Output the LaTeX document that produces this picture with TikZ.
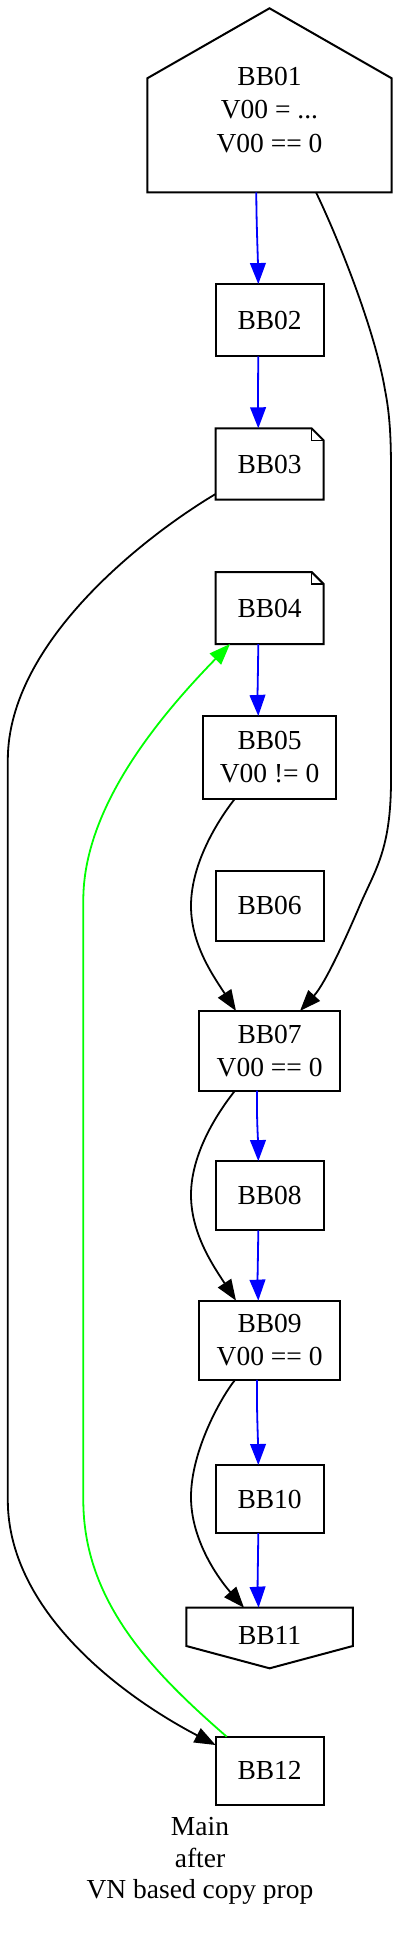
\documentclass[tikz,border=0pt]{standalone}
\usepackage{fontspec}
\setmainfont{Liberation Serif}
\usetikzlibrary{arrows.meta}
\begin{document}
\begin{tikzpicture}[x=1pt,y=-1pt,
  every node/.style={font=\fontsize{27.5pt}{33.3pt}\selectfont, inner sep=0pt, outer sep=0pt, align=center},
  bbox/.style={draw, line width=2pt, minimum width=108pt},
  plainbox/.style={minimum width=108pt},
  shapeline/.style={line width=2pt, line join=miter},
  tedge/.style={line width=1.8pt, -{Triangle[length=21pt,width=15.7pt]}},
  bedge/.style={tedge, blue},
  gedge/.style={tedge, green}
]
\useasboundingbox (0,0) rectangle (400,1954);

% nodes
\node[plainbox, minimum width=244.4pt, minimum height=164.6pt] (b01) at (269.5,110) {BB01\\V00 = ...\\V00 == 0};
\draw[shapeline] (b01.south west) -- ([yshift=114pt]b01.south west) -- ([yshift=184pt]b01.south) -- ([yshift=114pt]b01.south east) -- (b01.south east) -- cycle;

\node[bbox, minimum height=72.3pt] (b02) at (269.6,320.2) {BB02};

\node[plainbox, minimum height=71.4pt] (b03) at (269.6,464) {BB03};
\draw[shapeline] (b03.south west) -- (b03.north west) -- ([xshift=-12pt]b03.north east) -- ([yshift=-12pt]b03.north east) -- (b03.south east) -- cycle;
\draw[line width=1.5pt] ([xshift=-12pt]b03.north east) -- ([xshift=-12pt,yshift=-12pt]b03.north east) -- ([yshift=-12pt]b03.north east);

\node[plainbox, minimum height=72pt] (b04) at (269.6,608) {BB04};
\draw[shapeline] (b04.south west) -- (b04.north west) -- ([xshift=-12pt]b04.north east) -- ([yshift=-12pt]b04.north east) -- (b04.south east) -- cycle;
\draw[line width=1.5pt] ([xshift=-12pt]b04.north east) -- ([xshift=-12pt,yshift=-12pt]b04.north east) -- ([yshift=-12pt]b04.north east);

\node[bbox, minimum width=133.3pt, minimum height=82.7pt] (b05) at (269.6,757.3) {BB05\\V00 != 0};
\node[bbox, minimum height=70.3pt] (b06) at (269.6,905.8) {BB06};
\node[bbox, minimum width=140.4pt, minimum height=79.7pt] (b07) at (269.6,1050.8) {BB07\\V00 == 0};
\node[bbox, minimum height=69.3pt] (b08) at (269.6,1195.7) {BB08};
\node[bbox, minimum width=140.4pt, minimum height=79.3pt] (b09) at (269.6,1340.3) {BB09\\V00 == 0};
\node[bbox, minimum height=68pt] (b10) at (269.6,1499) {BB10};

\node[plainbox, minimum width=166.4pt, minimum height=54.6pt] (b11) at (269.6,1635) {BB11};
\draw[shapeline] (b11.north west) -- ([yshift=-38.3pt]b11.north west) -- ([yshift=-60.6pt]b11.north) -- ([yshift=-38.3pt]b11.north east) -- (b11.north east) -- cycle;

\node[bbox, minimum height=68.3pt] (b12) at (269.6,1770.8) {BB12};

\node[font=\fontsize{27.5pt}{31.2pt}\selectfont] (cap) at (200,1861) {Main\\after\\VN based copy prop};

% edges
\draw[bedge] ([xshift=-13.2pt]b01.south) .. controls (256.3,220) and (257.8,255) .. ([xshift=-11.3pt]b02.north);
\draw[tedge] ([xshift=46.5pt]b01.south) .. controls (338,238) and (375,330) .. (385,390) .. controls (390,415) and (391,440) .. (391,470) -- (391,780) .. controls (391,850) and (375,870) .. (360,905) .. controls (345,940) and (325,983.7) .. ([xshift=30.4pt]b07.north);
\draw[bedge] ([xshift=-11.3pt]b02.south) .. controls (258,385) and (258,400) .. ([xshift=-11.3pt]b03.north);
\draw[tedge] ([yshift=-30pt]b03.west) .. controls (150,533) and (7.8,640) .. (7.8,760) -- (7.8,1500) .. controls (7.8,1610) and (120,1695) .. ([yshift=25.8pt]b12.west);
\draw[bedge] ([xshift=-11.3pt]b04.south) .. controls (258,670) and (257.5,695) .. ([xshift=-11.3pt]b05.north);
\draw[tedge] ([xshift=-34.6pt]b05.south) .. controls (222,815) and (191,860) .. (191,906) .. controls (191,945) and (214,977) .. ([xshift=-33.6pt]b07.north);
\draw[bedge] ([xshift=-12.6pt]b07.south) .. controls (256.5,1115) and (258,1140) .. ([xshift=-11.3pt]b08.north);
\draw[tedge] ([xshift=-34.6pt]b07.south) .. controls (222,1107) and (191,1150) .. (191,1195) .. controls (191,1234) and (214,1267) .. ([xshift=-33.6pt]b09.north);
\draw[bedge] ([xshift=-11.3pt]b08.south) .. controls (258,1255) and (257.5,1280) .. ([xshift=-11.3pt]b09.north);
\draw[bedge] ([xshift=-12.6pt]b09.south) .. controls (256.5,1405) and (258,1440) .. ([xshift=-11.3pt]b10.north);
\draw[tedge] ([xshift=-34.6pt]b09.south) .. controls (222,1396) and (191,1450) .. (191,1497) .. controls (191,1540) and (218,1578) .. ([xshift=-25.6pt]b11.north);
\draw[bedge] ([xshift=-11.3pt]b10.south) .. controls (258,1560) and (257.5,1585) .. ([xshift=-11pt]b11.north);
\draw[gedge] ([xshift=-42.9pt]b12.north) .. controls (150,1670) and (83.3,1600) .. (83.3,1500) -- (83.3,900) .. controls (83.3,808) and (158,718) .. ([xshift=-39.6pt]b04.south);
\end{tikzpicture}
\end{document}
